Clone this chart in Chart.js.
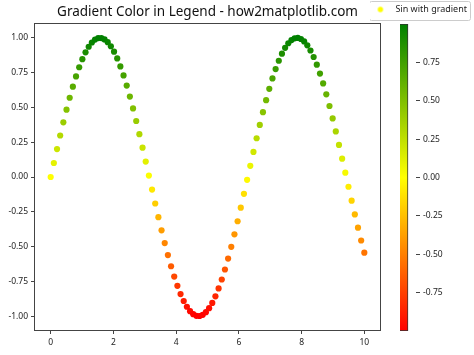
<!DOCTYPE html>
<html><head><meta charset="utf-8">
<script src="https://cdn.jsdelivr.net/npm/chart.js@4.4.1/dist/chart.umd.min.js"></script>
<style>
html,body{margin:0;padding:0;background:#fff;}
#wrap{position:relative;width:474px;height:355px;overflow:hidden;background:#fff;}
#main{position:absolute;left:0;top:0;}
#cbar{position:absolute;left:370px;top:0;}
</style></head><body>
<div id="wrap"><canvas id="main" width="474" height="355"></canvas><canvas id="cbar" width="104" height="355"></canvas></div>
<script>
const chartTitle = 'Gradient Color in Legend - how2matplotlib.com';
const seriesLabel = 'Sin with gradient';
const xValues = [0,0.101,0.202,0.303,0.404,0.505,0.606,0.707,0.808,0.909,1.010,1.111,1.212,1.313,1.414,1.515,1.616,1.717,1.818,1.919,2.020,2.121,2.222,2.323,2.424,2.525,2.626,2.727,2.828,2.929,3.030,3.131,3.232,3.333,3.434,3.535,3.636,3.737,3.838,3.939,4.040,4.141,4.242,4.343,4.444,4.545,4.646,4.747,4.848,4.949,5.051,5.152,5.253,5.354,5.455,5.556,5.657,5.758,5.859,5.960,6.061,6.162,6.263,6.364,6.465,6.566,6.667,6.768,6.869,6.970,7.071,7.172,7.273,7.374,7.475,7.576,7.677,7.778,7.879,7.980,8.081,8.182,8.283,8.384,8.485,8.586,8.687,8.788,8.889,8.990,9.091,9.192,9.293,9.394,9.495,9.596,9.697,9.798,9.899,10];
const sinValues = [0,0.1008,0.2006,0.2984,0.3931,0.4839,0.5696,0.6496,0.7230,0.7889,0.8469,0.8962,0.9364,0.9670,0.9878,0.9985,0.9990,0.9893,0.9696,0.9399,0.9007,0.8523,0.7952,0.7300,0.6574,0.5781,0.4928,0.4026,0.3082,0.2107,0.1111,0.0103,-0.0906,-0.1906,-0.2886,-0.3837,-0.4748,-0.5612,-0.6418,-0.7158,-0.7826,-0.8414,-0.8916,-0.9327,-0.9643,-0.9861,-0.9978,-0.9994,-0.9908,-0.9720,-0.9434,-0.9051,-0.8576,-0.8014,-0.7370,-0.6651,-0.5864,-0.5017,-0.4120,-0.3180,-0.2207,-0.1213,-0.0206,0.0804,0.1805,0.2787,0.3742,0.4658,0.5526,0.6338,0.7086,0.7761,0.8358,0.8869,0.9289,0.9615,0.9843,0.9971,0.9997,0.9921,0.9744,0.9467,0.9094,0.8629,0.8075,0.7439,0.6727,0.5947,0.5106,0.4213,0.3277,0.2308,0.1315,0.0308,-0.0701,-0.1703,-0.2688,-0.3646,-0.4566,-0.5440];
const xRange = [-0.5, 10.5];
const yRange = [-1.1, 1.1];
const xStep = 2;
const yStep = 0.25;
const cbStep = 0.25;

const FONT = "'Noto Sans', 'Open Sans', sans-serif";
const vmin = Math.min(...sinValues), vmax = Math.max(...sinValues);
const cRed = [255,0,0], cYel = [255,255,0], cGrn = [0,128,0];
function cmap(t){
  let a,b,s;
  if (t < 0.5){ a=cRed; b=cYel; s=t/0.5; } else { a=cYel; b=cGrn; s=(t-0.5)/0.5; }
  const c = a.map((v,i)=>Math.round(v+(b[i]-v)*s));
  return `rgb(${c[0]},${c[1]},${c[2]})`;
}
const pointColors = sinValues.map(v => cmap((v - vmin)/(vmax - vmin)));

const framePlugin = {
  id:'frame',
  afterDraw(chart){
    const a = chart.chartArea, c = chart.ctx;
    c.save(); c.strokeStyle = '#444'; c.lineWidth = 1;
    const L=Math.round(a.left)-0.5, T=Math.round(a.top)-0.5, R=Math.round(a.right)+0.5, B=Math.round(a.bottom)+0.5;
    c.strokeRect(L,T,R-L,B-T);
    c.restore();
  }
};

Chart.defaults.animation = false;
Chart.defaults.font.family = FONT;

new Chart(document.getElementById('main'), {
  type:'scatter',
  data:{ datasets:[{
    label: seriesLabel,
    data: xValues.map((x,i)=>({x, y: sinValues[i]})),
    pointBackgroundColor: pointColors,
    pointBorderWidth: 0,
    pointRadius: 3.1,
    pointHoverRadius: 3.1
  }]},
  options:{
    responsive:false, devicePixelRatio:1,
    layout:{ padding:{ left:0, right:94, top:0, bottom:0 } },
    plugins:{
      legend:{ display:false },
      tooltip:{ enabled:false },
      title:{ display:true, text: chartTitle, fullSize:false, color:'#111',
        font:{ size:13.5, family:FONT, weight:'normal', lineHeight:1.2 },
        padding:{ top:4, bottom:3.8 } }
    },
    scales:{
      x:{ type:'linear', min:xRange[0], max:xRange[1],
        afterFit(s){ s.height = 25; },
        border:{ display:false },
        grid:{ drawOnChartArea:false, drawTicks:true, tickLength:4, tickColor:'#444' },
        ticks:{ stepSize:xStep, includeBounds:false, color:'#222', padding:3, font:{ size:8.5 },
          callback:v=>String(v) } },
      y:{ type:'linear', min:yRange[0], max:yRange[1],
        afterFit(s){ s.width = 35; },
        border:{ display:false },
        grid:{ drawOnChartArea:false, drawTicks:true, tickLength:4, tickColor:'#444' },
        ticks:{ stepSize:yStep, includeBounds:false, color:'#222', padding:3, font:{ size:8.5 },
          callback:v=>Number(v).toFixed(2) } }
    }
  },
  plugins:[framePlugin]
});

// legend marker image (dot shifted left of image centre)
const dot = document.createElement('canvas');
dot.width = 24; dot.height = 8;
(function(){ const c = dot.getContext('2d'); c.fillStyle = cmap((0 - vmin)/(vmax - vmin)); c.beginPath(); c.arc(6,4,2.7,0,Math.PI*2); c.fill(); })();

const legendBoxPlugin = {
  id:'legendBox',
  beforeDraw(chart){
    const lg = chart.legend; if (!lg || !lg.legendHitBoxes || !lg.legendHitBoxes.length) return;
    const hb = lg.legendHitBoxes[0], c = chart.ctx;
    const L = Math.round(hb.left - 12.5)+0.5, R = Math.round(hb.left + hb.width + 3)+0.5;
    const T = Math.max(1, Math.round(hb.top - 4))+0.5, B = Math.round(hb.top + hb.height + 6)+0.5;
    c.save(); c.fillStyle='rgba(255,255,255,0.8)'; c.strokeStyle='#cccccc'; c.lineWidth=1;
    c.beginPath(); c.roundRect(L,T,R-L,B-T,2); c.fill(); c.stroke(); c.restore();
  }
};

new Chart(document.getElementById('cbar'), {
  type:'bar',
  data:{ labels:['cb'], datasets:[{
    label: seriesLabel,
    data:[[vmin, vmax]],
    backgroundColor(ctx){
      const ch = ctx.chart; if (!ch.chartArea) return 'yellow';
      const y = ch.scales.y;
      const g = ch.ctx.createLinearGradient(0, y.getPixelForValue(vmin), 0, y.getPixelForValue(vmax));
      g.addColorStop(0, 'rgb(255,0,0)'); g.addColorStop(0.5, 'rgb(255,255,0)'); g.addColorStop(1, 'rgb(0,128,0)');
      return g;
    },
    borderColor:'#333', borderWidth:1, borderSkipped:false,
    barPercentage:1, categoryPercentage:1
  }]},
  options:{
    responsive:false, devicePixelRatio:1,
    layout:{ padding:{ left:0, right:2, top:0, bottom:24 } },
    plugins:{
      tooltip:{ enabled:false },
      legend:{ display:true, position:'top', align:'end', onClick:null,
        labels:{ usePointStyle:true, pointStyle:dot, color:'#222', padding:5,
          font:{ size:9, family:FONT } } }
    },
    scales:{
      x:{ display:false, offset:false },
      spacer:{ type:'linear', position:'left', display:true,
        afterFit(s){ s.width = 30; },
        border:{ display:false }, grid:{ display:false }, ticks:{ display:false } },
      y:{ position:'right', min:vmin, max:vmax,
        afterFit(s){ s.width = 56; },
        border:{ display:false },
        grid:{ drawOnChartArea:false, drawTicks:true, tickLength:4, tickColor:'#444' },
        ticks:{ stepSize:cbStep, includeBounds:false, color:'#222', padding:3, font:{ size:8.5 },
          callback:v=>Number(v).toFixed(2) } }
    }
  },
  plugins:[legendBoxPlugin]
});
</script>
</body></html>
